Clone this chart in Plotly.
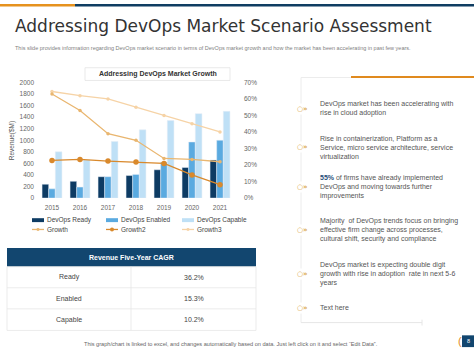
import plotly.graph_objects as go

W, H = 474, 355

years = ["2015", "2016", "2017", "2018", "2019", "2020", "2021"]
ready = [240, 290, 370, 390, 490, 530, 660]
enabled = [160, 190, 370, 410, 620, 970, 1000]
capable = [800, 660, 980, 1180, 1340, 1460, 1500]
growth = [0.63, 0.53, 0.39, 0.35, 0.24, 0.234, 0.22]
growth2 = [0.228, 0.234, 0.224, 0.218, 0.21, 0.14, 0.081]
growth3 = [0.645, 0.62, 0.60, 0.55, 0.50, 0.45, 0.40]

cagr_labels = ["Ready", "Enabled", "Capable"]
cagr_values = ["36.2%", "15.3%", "10.2%"]

bullets = [
    "DevOps market has been accelerating with<br>rise in cloud adoption",
    "Rise in containerization, Platform as a<br>Service, micro service architecture, service<br>virtualization",
    "<b><span style='color:#1f4e79'>55%</span></b> of firms have already implemented<br>DevOps and moving towards further<br>improvements",
    "Majority  of DevOps trends focus on bringing<br>effective firm change across processes,<br>cultural shift, security and compliance",
    "DevOps market is expecting double digit<br>growth with rise in adoption  rate in next 5-6<br>years",
    "Text here",
]
bullet_y = [107, 146, 187, 231, 275, 310]

C_READY = "#0d3b63"
C_ENAB = "#5aaae0"
C_CAP = "#bfe0f6"
C_G = "#e9b670"
C_G2 = "#d9892c"
C_G3 = "#f6d3a6"
C_NAVY = "#12466f"
C_ORANGE = "#e08a1e"


def px(x):
    return x / W


def py(y):
    return 1 - y / H


fig = go.Figure()
fig.add_trace(go.Bar(x=years, y=ready, name="DevOps Ready", marker_color=C_READY))
fig.add_trace(go.Bar(x=years, y=enabled, name="DevOps Enabled", marker_color=C_ENAB))
fig.add_trace(go.Bar(x=years, y=capable, name="DevOps Capable", marker_color=C_CAP))
fig.add_trace(go.Scatter(x=years, y=growth3, name="Growth3", yaxis="y2", mode="lines+markers",
                         line=dict(color=C_G3, width=1.3), marker=dict(size=3.5, color=C_G3)))
fig.add_trace(go.Scatter(x=years, y=growth, name="Growth", yaxis="y2", mode="lines+markers",
                         line=dict(color=C_G, width=1.3), marker=dict(size=3.5, color=C_G)))
fig.add_trace(go.Scatter(x=years, y=growth2, name="Growth2", yaxis="y2", mode="lines+markers",
                         line=dict(color=C_G2, width=1.3), marker=dict(size=5.5, color=C_G2)))

tickfont = dict(family="Liberation Sans, Arial", size=6.5, color="#666666")

shapes = []
ann = []


def A(**kw):
    d = dict(xref="paper", yref="paper", showarrow=False)
    d.update(kw)
    ann.append(d)


def S(**kw):
    d = dict(xref="paper", yref="paper")
    d.update(kw)
    shapes.append(d)


# top bar
S(type="rect", x0=px(0), x1=px(75), y0=py(0), y1=py(2.5), fillcolor="#e6921e", line_width=0)
S(type="rect", x0=px(75), x1=px(474), y0=py(0), y1=py(2.5), fillcolor="#0f3d62", line_width=0)

# title
A(text="Addressing DevOps Market Scenario Assessment", x=px(13), y=py(22), xanchor="left", yanchor="middle",
  font=dict(family="DejaVu Sans", size=17, color="#333333"))
A(text="This slide provides information regarding DevOps market scenario in terms of DevOps market growth and how the market has been accelerating in past few years.",
  x=px(13), y=py(45), xanchor="left", yanchor="middle",
  font=dict(family="Liberation Sans, Arial", size=5.5, color="#7f7f7f"))

# chart title box
S(type="rect", x0=px(85), x1=px(230), y0=py(65), y1=py(78), fillcolor="white",
  line=dict(color="#e3e3e3", width=0.8), layer="below")
A(text="<b>Addressing DevOps Market Growth</b>", x=px(157.5), y=py(71.5), xanchor="center", yanchor="middle",
  font=dict(family="Liberation Sans, Arial", size=7, color="#333333"))

# y axis title
A(text="Revenue($M)", x=px(12), y=py(140), xanchor="center", yanchor="middle", textangle=-90,
  font=dict(family="Liberation Sans, Arial", size=6.5, color="#555555"))

# manual legend
leg_font = dict(family="Liberation Sans, Arial", size=6.5, color="#444444")
row1, row2 = 220.5, 230
for x0, name, col in [(32, "DevOps Ready", C_READY), (106, "DevOps Enabled", C_ENAB), (182, "DevOps Capable", C_CAP)]:
    S(type="rect", x0=px(x0), x1=px(x0 + 12), y0=py(row1 + 2), y1=py(row1 - 2), fillcolor=col, line_width=0)
    A(text=name, x=px(x0 + 13), y=py(row1), xanchor="left", yanchor="middle", font=leg_font)
for x0, name, col, ms in [(32, "Growth", C_G, 3), (106, "Growth2", C_G2, 4), (182, "Growth3", C_G3, 3)]:
    S(type="line", x0=px(x0), x1=px(x0 + 12), y0=py(row2), y1=py(row2), line=dict(color=col, width=1.3))
    S(type="circle", x0=px(x0 + 6 - ms / 2), x1=px(x0 + 6 + ms / 2), y0=py(row2 + ms / 2), y1=py(row2 - ms / 2),
      fillcolor=col, line_width=0)
    A(text=name, x=px(x0 + 13), y=py(row2), xanchor="left", yanchor="middle", font=leg_font)

# table
tx0, tx1, tmid = 7, 256, 131
S(type="rect", x0=px(tx0), x1=px(tx1), y0=py(249), y1=py(268), fillcolor=C_NAVY, line_width=0)
A(text="<b>Revenue Five-Year CAGR</b>", x=px((tx0 + tx1) / 2), y=py(258.5), xanchor="center", yanchor="middle",
  font=dict(family="Liberation Sans, Arial", size=7, color="white"))
row_edges = [268, 289.5, 311, 333]
S(type="rect", x0=px(tx0), x1=px(tx1), y0=py(333), y1=py(268), fillcolor="white",
  line=dict(color="#e6e6e6", width=0.8))
for ye in row_edges[1:-1]:
    S(type="line", x0=px(tx0), x1=px(tx1), y0=py(ye), y1=py(ye), line=dict(color="#e6e6e6", width=0.8))
S(type="line", x0=px(tmid), x1=px(tmid), y0=py(268), y1=py(333), line=dict(color="#e6e6e6", width=0.8))
cell_font = dict(family="Liberation Sans, Arial", size=7, color="#444444")
for i, (lab, val) in enumerate(zip(cagr_labels, cagr_values)):
    yc = (row_edges[i] + row_edges[i + 1]) / 2
    A(text=lab, x=px((tx0 + tmid) / 2), y=py(yc), xanchor="center", yanchor="middle", font=cell_font)
    A(text=val, x=px((tmid + tx1) / 2), y=py(yc), xanchor="center", yanchor="middle", font=cell_font)

# footer
A(text="This graph/chart is linked to excel, and changes automatically based on data. Just left click on it and select \u201cEdit Data\u201d.",
  x=px(231), y=py(347), xanchor="center", yanchor="middle",
  font=dict(family="Liberation Sans, Arial", size=5.6, color="#666666"))

# right panel frame
S(type="line", x0=px(301), x1=px(301), y0=py(75), y1=py(325), line=dict(color="#ececec", width=1))
S(type="line", x0=px(301), x1=px(351), y0=py(75), y1=py(75), line=dict(color="#ececec", width=1))
S(type="line", x0=px(351), x1=px(474), y0=py(74.5), y1=py(74.5), line=dict(color=C_ORANGE, width=2))
S(type="line", x0=px(301), x1=px(422), y0=py(325), y1=py(325), line=dict(color="#e6e6e6", width=1))
S(type="line", x0=px(422), x1=px(422), y0=py(322), y1=py(328), line=dict(color="#e6e6e6", width=1))

txt_font = dict(family="Liberation Sans, Arial", size=7, color="#555555")
for t, yb in zip(bullets, bullet_y):
    A(text=t, x=px(318), y=py(yb), xanchor="left", yanchor="middle", align="left", font=txt_font)
    A(text="<b>\u25cb\u00bb</b>", x=px(302), y=py(yb), xanchor="center", yanchor="middle", bgcolor="white",
      font=dict(family="DejaVu Sans", size=7, color="#d9a548"))

# page number
S(type="rect", x0=px(462), x1=px(476), y0=py(350), y1=py(338), fillcolor=C_NAVY, line_width=0)
A(text="(", x=px(459.5), y=py(344), xanchor="center", yanchor="middle",
  font=dict(family="Liberation Sans, Arial", size=11, color=C_ORANGE))
A(text="8", x=px(468), y=py(344), xanchor="center", yanchor="middle",
  font=dict(family="Liberation Sans, Arial", size=5.5, color="white"))

fig.update_layout(
    width=W, height=H, margin=dict(l=0, r=0, t=0, b=0),
    paper_bgcolor="white", plot_bgcolor="white",
    showlegend=False, barmode="group", bargap=0.29, bargroupgap=0,
    xaxis=dict(domain=[px(38), px(234)], type="category", showgrid=False, zeroline=False, showline=False,
               ticks="", tickfont=tickfont, ticklabelstandoff=4),
    yaxis=dict(range=[0, 2000], dtick=200, showgrid=False, zeroline=False, showline=False,
               tickfont=tickfont, domain=[py(198), py(80)], ticklabelstandoff=3),
    yaxis2=dict(range=[0, 0.7], dtick=0.1, tickformat=".0%", overlaying="y", side="right", showgrid=False,
                zeroline=False, showline=False, tickfont=tickfont, ticklabelstandoff=9),
    shapes=shapes, annotations=ann,
    font=dict(family="Liberation Sans, Arial"),
)

fig.write_html("out.html", config={"displayModeBar": False},
               post_script="document.body.style.margin='0';document.body.style.overflow='hidden';")
